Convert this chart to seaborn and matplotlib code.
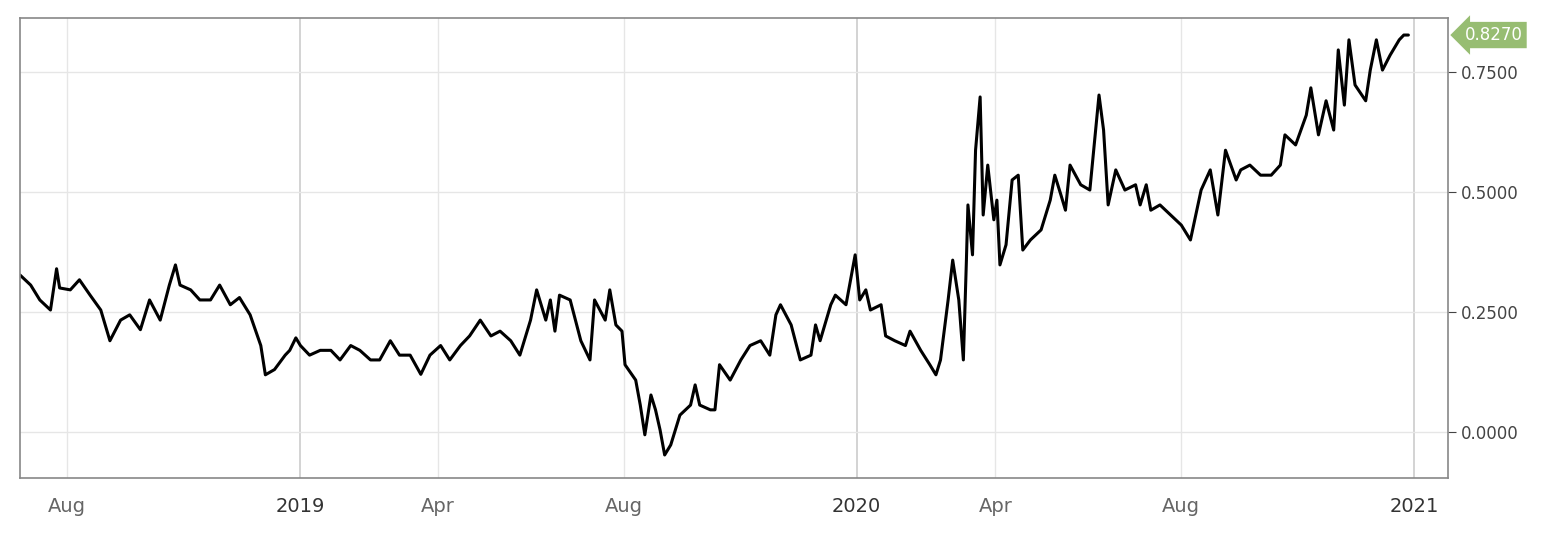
import pandas as pd
import seaborn as sns
import matplotlib.pyplot as plt
import matplotlib.dates as mdates

# Data: days since 2018-07-01 and value
start = pd.Timestamp('2018-07-01')
days = [0, 7, 13, 20, 24, 26, 33, 39, 46, 53, 59, 66, 72, 79, 85, 92, 98, 102, 105, 112,
        118, 125, 131, 138, 144, 151, 158, 161, 167, 174, 177, 181, 184, 190, 197, 204, 210,
        217, 223, 230, 236, 243, 249, 256, 263, 269, 276, 282, 289, 295, 302, 309, 315, 322,
        328, 335, 339, 345, 348, 351, 354, 361, 368, 374, 377, 384, 387, 391, 395, 397, 404,
        407, 410, 414, 417, 420, 423, 427, 433, 440, 443, 446, 453, 456, 459, 466, 473, 479,
        486, 492, 496, 499, 506, 512, 519, 522, 525, 532, 535, 542, 548, 551, 555, 558, 565,
        568, 574, 581, 584, 591, 597, 601, 604, 609, 612, 616, 619, 621, 622, 625, 627, 630,
        632, 635, 639, 641, 643, 647, 651, 655, 658, 663, 670, 676, 679, 683, 686, 689, 696,
        702, 708, 711, 714, 719, 725, 732, 735, 739, 742, 748, 755, 762, 768, 775, 781, 786,
        791, 798, 801, 807, 814, 821, 827, 830, 837, 844, 847, 852, 857, 862, 865, 869, 872,
        876, 883, 886, 890, 894, 899, 905, 908, 911]
values = [0.327, 0.306, 0.275, 0.254, 0.34, 0.30, 0.296, 0.317, 0.285, 0.254, 0.19, 0.233,
          0.244, 0.213, 0.275, 0.233, 0.306, 0.348, 0.306, 0.296, 0.275, 0.275, 0.306, 0.265,
          0.28, 0.244, 0.18, 0.119, 0.13, 0.16, 0.17, 0.196, 0.18, 0.16, 0.17, 0.17, 0.15,
          0.18, 0.17, 0.15, 0.15, 0.19, 0.16, 0.16, 0.12, 0.16, 0.18, 0.15, 0.18, 0.20, 0.233,
          0.20, 0.21, 0.19, 0.16, 0.233, 0.296, 0.233, 0.275, 0.21, 0.285, 0.275, 0.19, 0.15,
          0.275, 0.233, 0.296, 0.223, 0.21, 0.14, 0.108, 0.056, -0.006, 0.077, 0.046, 0.004,
          -0.048, -0.027, 0.035, 0.056, 0.098, 0.056, 0.046, 0.046, 0.14, 0.108, 0.15, 0.18,
          0.19, 0.16, 0.244, 0.265, 0.223, 0.15, 0.16, 0.223, 0.19, 0.265, 0.285, 0.265,
          0.369, 0.275, 0.296, 0.254, 0.265, 0.20, 0.19, 0.18, 0.21, 0.17, 0.14, 0.119, 0.15,
          0.275, 0.358, 0.275, 0.15, 0.358, 0.473, 0.369, 0.587, 0.698, 0.452, 0.556, 0.442,
          0.483, 0.348, 0.39, 0.525, 0.535, 0.379, 0.40, 0.421, 0.483, 0.535, 0.494, 0.462,
          0.556, 0.515, 0.504, 0.702, 0.629, 0.473, 0.546, 0.504, 0.515, 0.473, 0.515, 0.462,
          0.473, 0.452, 0.431, 0.40, 0.504, 0.546, 0.452, 0.587, 0.525, 0.546, 0.556, 0.535,
          0.535, 0.556, 0.619, 0.598, 0.66, 0.717, 0.619, 0.69, 0.629, 0.796, 0.681, 0.817,
          0.723, 0.69, 0.754, 0.817, 0.754, 0.785, 0.817, 0.827, 0.827]
y_ticks = [0.0, 0.25, 0.5, 0.75]

df = pd.DataFrame({'date': start + pd.to_timedelta(days, unit='D'), 'value': values})

sns.set_style('white')
fig = plt.figure(figsize=(15.6, 5.48), dpi=100)
ax = fig.add_axes([20 / 1560, 70 / 548, 1428 / 1560, 460 / 548])
sns.lineplot(data=df, x='date', y='value', color='black', linewidth=2.2, ax=ax)

ax.set_xlim(start, start + pd.Timedelta(days=937))
ax.set_ylim(-0.096, 0.8625)
ax.set_xlabel('')
ax.set_ylabel('')

ax.yaxis.tick_right()
ax.set_yticks(y_ticks)
ax.set_yticklabels([f'{v:.4f}' for v in y_ticks], fontsize=12, color='#444444')

# minor = months Apr/Aug, major = years
ax.xaxis.set_major_locator(mdates.YearLocator())
ax.xaxis.set_major_formatter(mdates.DateFormatter('%Y'))
ax.xaxis.set_minor_locator(mdates.MonthLocator(bymonth=[4, 8]))
ax.xaxis.set_minor_formatter(mdates.DateFormatter('%b'))
ax.tick_params(axis='x', which='major', labelsize=14, colors='#888888', labelcolor='#333333',
               length=8, pad=6)
ax.tick_params(axis='x', which='minor', labelsize=14, colors='#cccccc', labelcolor='#666666',
               length=8, pad=6)
ax.tick_params(axis='y', length=6, colors='#444444')

ax.grid(True, which='major', axis='x', color='#cccccc', linewidth=1.2)
ax.grid(True, which='minor', axis='x', color='#e6e6e6', linewidth=1)
ax.grid(True, which='major', axis='y', color='#e6e6e6', linewidth=1)
for s in ax.spines.values():
    s.set_color('#888888')
    s.set_linewidth(1.2)

# last value badge
last = values[-1]
ax.annotate(f'{last:.4f}', xy=(1.0, last), xycoords=('axes fraction', 'data'),
            xytext=(12, 0), textcoords='offset points', va='center', ha='left',
            fontsize=12, color='white',
            bbox=dict(boxstyle='larrow,pad=0.25', fc='#97bd72', ec='none'))

fig.savefig('out.png', dpi=100)
